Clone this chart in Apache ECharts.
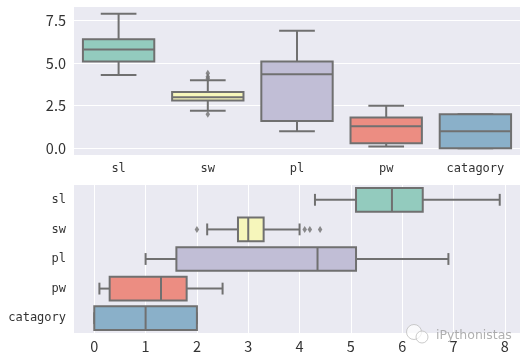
<!DOCTYPE html>
<html><head><meta charset="utf-8">
<style>html,body{margin:0;padding:0;background:#fff}#c{width:527px;height:359px}</style>
<script src="https://cdn.jsdelivr.net/npm/echarts@6/dist/echarts.min.js"></script>
</head><body><div id="c"></div>
<script>
const categories = ['sl','sw','pl','pw','catagory'];
const whiskerLow = [4.3,2.2,1.0,0.1,0];
const q1 = [5.1,2.8,1.6,0.3,0];
const medians = [5.8,3.0,4.35,1.3,1];
const q3 = [6.4,3.3,5.1,1.8,2];
const whiskerHigh = [7.9,4.0,6.9,2.5,2];
const outlierCat = [1,1,1,1];
const outlierVal = [2.0,4.1,4.2,4.4];
const topTicks = [0,2.5,5,7.5];
const bottomTicks = [0,1,2,3,4,5,6,7,8];
const colors = ['#93cbbe','#f6f6bb','#c1bed6','#ec8d82','#8ab0c9'];
const LINE = '#707070', BG = '#eaeaf2', TXT = '#333333';
const rows = categories.map((c,i)=>[i,whiskerLow[i],q1[i],medians[i],q3[i],whiskerHigh[i]]);

function renderBox(horizontal){
  return function(params, api){
    const i = api.value(0);
    const P = v => horizontal ? api.coord([v,i]) : api.coord([i,v]);
    const band = horizontal ? api.size([0,1])[1] : api.size([1,0])[0];
    const bw = band*0.8, cw = band*0.4;
    const seg = (a,b,o)=>{
      const p=P(a),q=P(b);
      return horizontal ? {x1:p[0],y1:p[1]+o,x2:q[0],y2:q[1]+o} : {x1:p[0]+o,y1:p[1],x2:q[0]+o,y2:q[1]};
    };
    const cross = (v,w)=>{
      const p=P(v);
      return horizontal ? {x1:p[0],y1:p[1]-w/2,x2:p[0],y2:p[1]+w/2} : {x1:p[0]-w/2,y1:p[1],x2:p[0]+w/2,y2:p[1]};
    };
    const st = {stroke:LINE,lineWidth:2,fill:null};
    const a=P(api.value(2)), b=P(api.value(4));
    const rect = horizontal
      ? {x:a[0],y:a[1]-bw/2,width:b[0]-a[0],height:bw}
      : {x:a[0]-bw/2,y:b[1],width:bw,height:a[1]-b[1]};
    const line = (shape)=>({type:'line',shape,style:st});
    return {type:'group',children:[
      line(seg(api.value(1),api.value(2),0)),
      line(seg(api.value(4),api.value(5),0)),
      line(cross(api.value(1),cw)),
      line(cross(api.value(5),cw)),
      {type:'rect',shape:rect,style:{fill:colors[i],stroke:LINE,lineWidth:2}},
      line(cross(api.value(3),bw))
    ]};
  };
}
const catLabel = {color:TXT,fontFamily:'"DejaVu Sans Mono",monospace',fontSize:12};
const numLabel = {color:TXT,fontFamily:'"Noto Sans CJK SC","Noto Sans",sans-serif',fontSize:14.5};
const chart = echarts.init(document.getElementById('c'),null,{renderer:'canvas'});
chart.setOption({
  animation:false,
  backgroundColor:'#fff',
  grid:[
    {left:74,top:7,width:446,height:148,backgroundColor:BG,show:true,borderWidth:0},
    {left:74,top:185,width:446,height:148,backgroundColor:BG,show:true,borderWidth:0}
  ],
  xAxis:[
    {gridIndex:0,type:'category',data:categories,axisLine:{show:false},axisTick:{show:false},
     splitLine:{show:false},axisLabel:Object.assign({margin:8},catLabel)},
    {gridIndex:1,type:'value',min:-0.395,max:8.295,axisLine:{show:false},
     axisTick:{show:false,customValues:bottomTicks},
     axisLabel:Object.assign({margin:6,customValues:bottomTicks,formatter:v=>String(v)},numLabel),
     splitLine:{show:true,lineStyle:{color:'#fff',width:1}}}
  ],
  yAxis:[
    {gridIndex:0,type:'value',min:-0.395,max:8.295,axisLine:{show:false},
     axisTick:{show:false,customValues:topTicks},
     axisLabel:Object.assign({margin:8,customValues:topTicks,formatter:v=>v.toFixed(1)},numLabel),
     splitLine:{show:true,lineStyle:{color:'#fff',width:1}}},
    {gridIndex:1,type:'category',inverse:true,data:categories,axisLine:{show:false},axisTick:{show:false},
     splitLine:{show:false},axisLabel:Object.assign({margin:8},catLabel)}
  ],
  series:[
    {type:'custom',xAxisIndex:0,yAxisIndex:0,data:rows,renderItem:renderBox(false),encode:{x:0,y:[1,2,3,4,5]},clip:false,z:3},
    {type:'custom',xAxisIndex:1,yAxisIndex:1,data:rows,renderItem:renderBox(true),encode:{y:0,x:[1,2,3,4,5]},clip:false,z:3},
    {type:'scatter',xAxisIndex:0,yAxisIndex:0,data:outlierCat.map((c,i)=>[c,outlierVal[i]]),symbol:'diamond',symbolSize:[4.5,7],
     itemStyle:{color:LINE},z:4},
    {type:'scatter',xAxisIndex:1,yAxisIndex:1,data:outlierCat.map((c,i)=>[outlierVal[i],c]),symbol:'diamond',symbolSize:[4.5,7],
     itemStyle:{color:LINE},z:4}
  ],
  graphic:[
    {type:'circle',shape:{cx:414,cy:332,r:7.5},style:{fill:'rgba(255,255,255,0.7)',stroke:'rgba(190,190,190,0.8)',lineWidth:1},z:10},
    {type:'circle',shape:{cx:422,cy:337,r:6},style:{fill:'rgba(255,255,255,0.7)',stroke:'rgba(190,190,190,0.8)',lineWidth:1},z:10},
    {type:'text',x:436,y:329,style:{text:'iPythonistas',fill:'rgba(150,150,150,0.75)',font:'12.5px "DejaVu Sans"'},z:10}
  ]
});
</script></body></html>
